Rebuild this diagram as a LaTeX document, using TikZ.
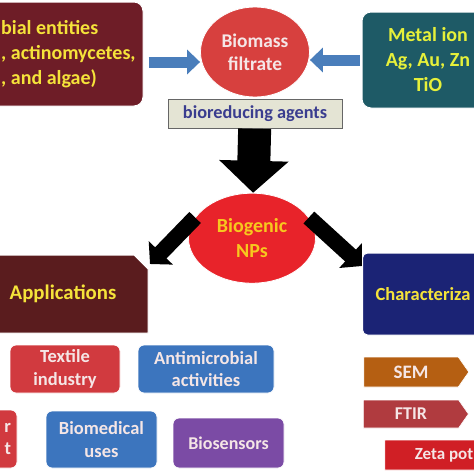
\documentclass[tikz,border=0pt]{standalone}
\usepackage{fontspec}
\setmainfont{Carlito}
\usetikzlibrary{shapes.geometric, shapes.misc, shapes.symbols, arrows.meta, positioning}
\definecolor{microbefill}{HTML}{6E1D27}
\definecolor{metalfill}{HTML}{1E5A66}
\definecolor{filtratefill}{HTML}{D7403E}
\definecolor{agentfill}{HTML}{E4E4D4}
\definecolor{agenttext}{HTML}{3A3D8F}
\definecolor{npfill}{HTML}{E8232A}
\definecolor{appsfill}{HTML}{5A1C1E}
\definecolor{charfill}{HTML}{1B2375}
\definecolor{redfill}{HTML}{D13A3F}
\definecolor{bluefill}{HTML}{3C75BE}
\definecolor{purplefill}{HTML}{7B4BA5}
\definecolor{semfill}{HTML}{B55F12}
\definecolor{ftirfill}{HTML}{B03B3F}
\definecolor{zetafill}{HTML}{D01F25}
\definecolor{yelltext}{HTML}{F5E33A}
\definecolor{limetext}{HTML}{E6F03A}
\definecolor{npyellow}{HTML}{F7C81E}
\definecolor{paletext}{HTML}{F5E6E6}
\definecolor{arrowblue}{HTML}{4A7EBB}
\tikzset{
    bigbox/.style={rectangle, draw=white, line width=1pt, rounded corners=9pt, text=yelltext, align=center, font=\fontsize{20}{25}\selectfont\bfseries},
    oval/.style={ellipse, draw=white, line width=0.8pt, inner sep=0pt, align=center, font=\fontsize{20}{25}\selectfont\bfseries},
    usebox/.style={rectangle, draw=white, line width=0.8pt, rounded corners=6pt, minimum width=111pt, minimum height=48pt, text=paletext, align=center, font=\fontsize{18.5}{22.5}\selectfont\bfseries},
    tagbox/.style={signal, signal to=east, signal pointer angle=110, draw=white, line width=0.6pt, minimum width=105pt, minimum height=30pt, inner sep=0pt, text=paletext, font=\fontsize{18.5}{22}\selectfont\bfseries},
    bluearrow/.style={arrowblue, line width=11pt, -{Triangle[width=24pt, length=13pt]}},
    fatarrow/.style={black, line width=#1, -{Triangle[width=2.05*#1, length=0.97*#1]}},
}
\begin{document}
\begin{tikzpicture}[x=1pt, y=-1pt,
    agbox/.style={rectangle, draw=gray!80!black, fill=agentfill, minimum width=174pt, minimum height=29pt, text=agenttext, font=\fontsize{18.3}{20}\selectfont\bfseries},
    snipbox/.style={chamfered rectangle, chamfered rectangle corners=north east, chamfered rectangle xsep=7pt, chamfered rectangle ysep=7pt, draw=white, line width=1pt, text=yelltext, font=\fontsize{20.8}{25}\selectfont\bfseries},
    lbl/.style={inner sep=0pt, text=yelltext, font=\fontsize{20}{25}\selectfont\bfseries},
]
    \fill [white] (0,0) rectangle (474,474);
    \useasboundingbox (0,0) rectangle (474,474);
    \clip (0,0) rectangle (474,474);
    % Row 1: sources and filtrate
    \node [bigbox, fill=microbefill, minimum width=228pt, minimum height=104pt] (microbe) at (29,54) {};
    \node [lbl, anchor=west, align=left] (microbelbl) at (1,54) {bial entities\\, actinomycetes,\\, and algae)};
    \node [oval, fill=filtratefill, text=paletext, minimum width=109pt, minimum height=90pt, font=\fontsize{19.4}{23}\selectfont\bfseries] (biomass) at (255,52) {Biomass\\filtrate};
    \node [bigbox, fill=metalfill, text=limetext, minimum width=132pt, minimum height=96pt] (metal) at (428,60) {Metal ion\\Ag, Au, Zn\\TiO};
    % Row 2: agents and nanoparticles
    \node [agbox, below=2pt of biomass] (bioagent) {bioreducing agents};
    \node [oval, fill=npfill, text=npyellow, minimum width=127pt, minimum height=90pt, below=64pt of bioagent, xshift=-3pt] (np) {Biogenic\\NPs};
    % Row 3: the two branches
    \node [snipbox, fill=appsfill, minimum width=170pt, minimum height=78pt] (apps) at (63,294) {Applications};
    \node [bigbox, fill=charfill, rounded corners=5pt, minimum width=121pt, minimum height=82pt, font=\fontsize{18.5}{25}\selectfont\bfseries] (charac) at (423,294) {Characteriza};
    \coordinate (appstip) at (150,264);
    \coordinate (chartip) at (362,266);
    % Row 4: uses
    \node [usebox, fill=redfill, minimum width=110pt] (textile) at (65,369) {Textile\\industry};
    \node [usebox, fill=bluefill, minimum width=136pt] (antimic) at (206,369) {Antimicrobial\\activities};
    \node [usebox, fill=redfill, minimum width=84pt, minimum height=58pt, align=right, text width=72pt, inner xsep=6pt] (water) at (-25,439) {r\\t};
    \node [usebox, fill=bluefill, minimum height=57pt] (biomed) at (101.5,439.5) {Biomedical\\uses};
    \node [usebox, fill=purplefill, minimum height=50pt, font=\fontsize{18}{22}\selectfont\bfseries] (biosens) at (228.5,443) {Biosensors};
    % Techniques
    \node [tagbox, fill=semfill, font=\fontsize{19}{22}\selectfont\bfseries] (sem) at (411,372) {SEM};
    \node [tagbox, fill=ftirfill, minimum height=28pt, font=\fontsize{18}{22}\selectfont\bfseries] (ftir) at (411,414) {FTIR};
    \node [tagbox, fill=zetafill, minimum width=129pt, font=\fontsize{17}{22}\selectfont\bfseries] (zeta) at (444,455) {Zeta pot};
    % Arrows
    \draw [bluearrow, shorten <=5pt] ([yshift=-8pt]microbe.east) -- ([yshift=-8pt]microbe.east -| biomass.west);
    \draw [bluearrow, shorten <=2pt] (metal.west) -- (metal.west -| biomass.east);
    \draw [fatarrow=33pt] (bioagent) -- (np);
    \draw [fatarrow=16pt] (np.160) -- (appstip);
    \draw [fatarrow=16pt] (np.20) -- (chartip);
\end{tikzpicture}
\end{document}
